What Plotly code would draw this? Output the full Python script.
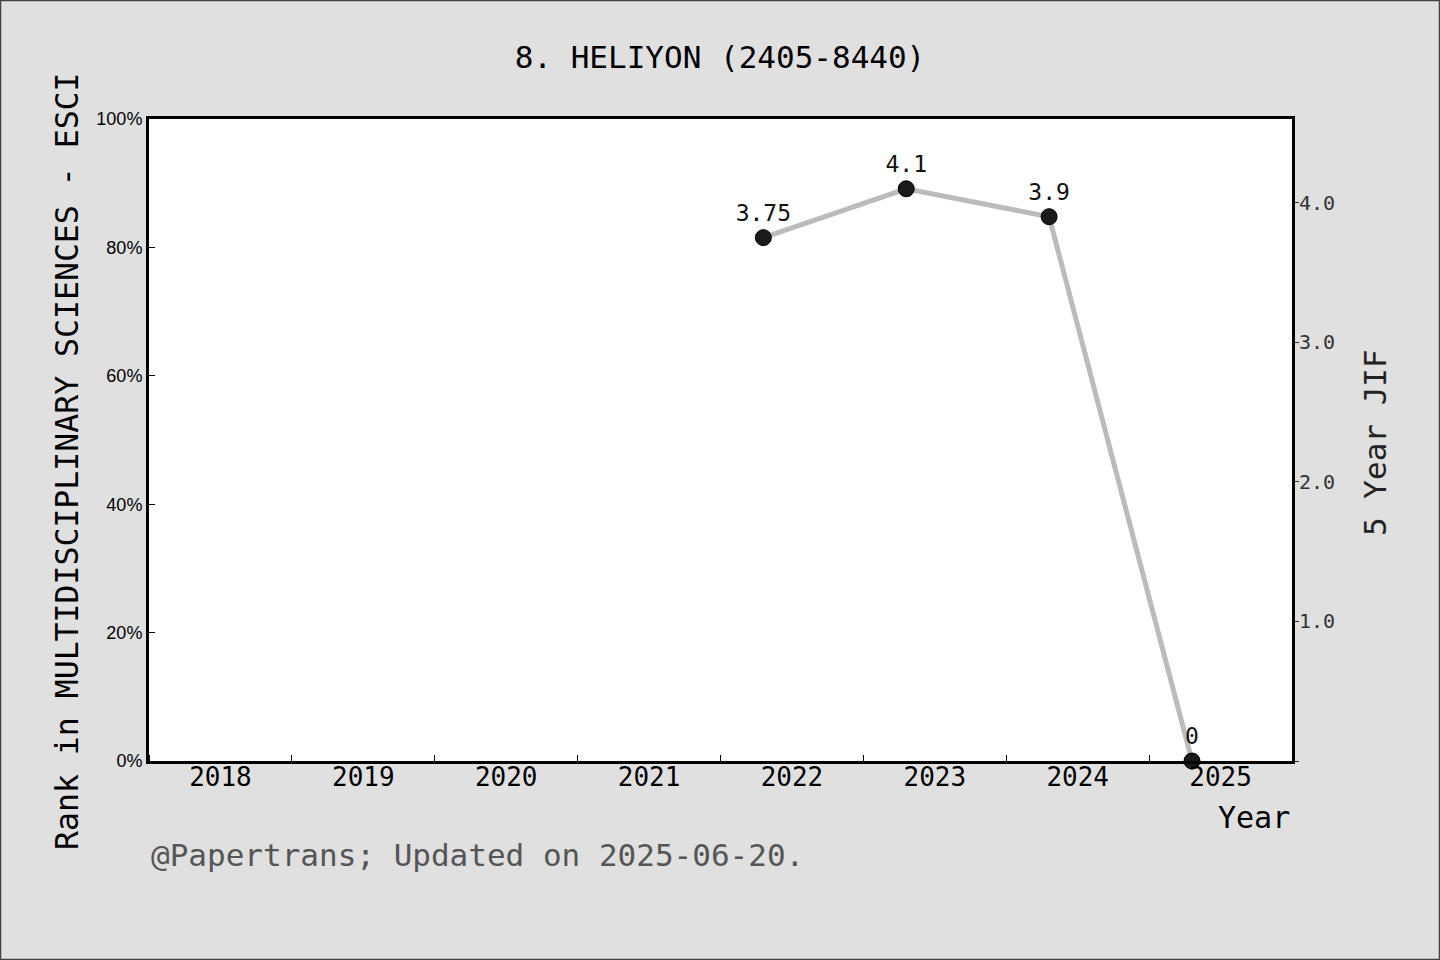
import plotly.graph_objects as go

years = ["2018", "2019", "2020", "2021", "2022", "2023", "2024", "2025"]
jif_years = ["2022", "2023", "2024", "2025"]
jif_values = [3.75, 4.1, 3.9, 0]
jif_labels = ["3.75", "4.1", "3.9", "0"]
rank_values = [None] * len(years)
pct_ticks = [0, 0.2, 0.4, 0.6, 0.8, 1.0]
jif_ticks = [0, 1, 2, 3, 4]
jif_ticktext = ["", "1.0", "2.0", "3.0", "4.0"]

DODGE = -0.2
idx = {y: i for i, y in enumerate(years)}
jif_x = [idx[y] + DODGE for y in jif_years]

MONO = "DejaVu Sans Mono"

fig = go.Figure()
fig.add_trace(go.Scatter(x=list(range(len(years))), y=rank_values, yaxis="y",
                         mode="markers", showlegend=False, hoverinfo="skip"))
fig.add_trace(go.Scatter(
    x=jif_x, y=jif_values, yaxis="y2", mode="lines+markers+text",
    text=jif_labels, textposition="top center",
    textfont=dict(family=MONO, size=23, color="#111111"),
    line=dict(color="#bbbbbb", width=5),
    marker=dict(color="#1a1a1a", size=16, line=dict(color="#000000", width=1)),
    cliponaxis=False, showlegend=False))

fig.update_layout(
    width=1440, height=960,
    paper_bgcolor="#e0e0e0", plot_bgcolor="#ffffff",
    margin=dict(l=149, r=148, t=119, b=199),
    title=dict(text="8. HELIYON (2405-8440)", x=0.5, xanchor="center",
               y=1 - 57 / 960, yanchor="middle",
               font=dict(family=MONO, size=31, color="#000000")),
    xaxis=dict(range=[-0.5, 7.5], tickvals=list(range(len(years))), ticktext=years,
               ticks="", showgrid=False, zeroline=False, ticklabelstandoff=-9,
               showline=True, linecolor="#000000", linewidth=3, mirror=True,
               tickfont=dict(family=MONO, size=26, color="#000000"),
               minor=dict(ticks="inside", tick0=0.5, dtick=1, ticklen=6,
                          tickcolor="#000000", tickwidth=1, showgrid=False)),
    yaxis=dict(range=[0, 1], tickvals=pct_ticks, tickformat=".0%",
               ticks="inside", ticklen=6, tickcolor="#000000", tickwidth=1,
               showgrid=False, zeroline=False,
               showline=True, linecolor="#000000", linewidth=3,
               tickfont=dict(family="Liberation Sans", size=18, color="#000000")),
    yaxis2=dict(range=[0, 4.6], overlaying="y", side="right",
                tickvals=jif_ticks, ticktext=jif_ticktext,
                ticks="outside", ticklen=4, tickcolor="#333333", tickwidth=1,
                showgrid=False, zeroline=False, ticklabelstandoff=-4,
                showline=True, linecolor="#000000", linewidth=3,
                tickfont=dict(family=MONO, size=20, color="#333333")),
    shapes=[dict(type="rect", xref="paper", yref="paper",
                 x0=-148.5 / 1143, x1=1 + 147.5 / 1143, y0=-198.5 / 642, y1=1 + 118.5 / 642,
                 line=dict(color="#444444", width=1.5), fillcolor="rgba(0,0,0,0)",
                 layer="below")],
    annotations=[
        dict(text="Rank in MULTIDISCIPLINARY SCIENCES - ESCI", textangle=-90,
             xref="paper", yref="paper", x=(67 - 149) / 1143, y=(761 - 461) / 642,
             xanchor="center", yanchor="middle", showarrow=False,
             font=dict(family=MONO, size=31.5, color="#000000")),
        dict(text="5 Year JIF", textangle=-90,
             xref="paper", yref="paper", x=(1375 - 149) / 1143, y=(761 - 443) / 642,
             xanchor="center", yanchor="middle", showarrow=False,
             font=dict(family=MONO, size=31, color="#222222")),
        dict(text="Year", xref="paper", yref="paper", x=1, y=(761 - 817) / 642,
             xanchor="right", yanchor="middle", showarrow=False,
             font=dict(family=MONO, size=30, color="#000000")),
        dict(text="@Papertrans; Updated on 2025-06-20.", xref="paper", yref="paper",
             x=0, y=(761 - 855) / 642, xanchor="left", yanchor="middle",
             showarrow=False, font=dict(family=MONO, size=31, color="#555555")),
    ],
)

fig.write_html("out.html", config={"displayModeBar": False},
               post_script="document.body.style.margin='0';")
